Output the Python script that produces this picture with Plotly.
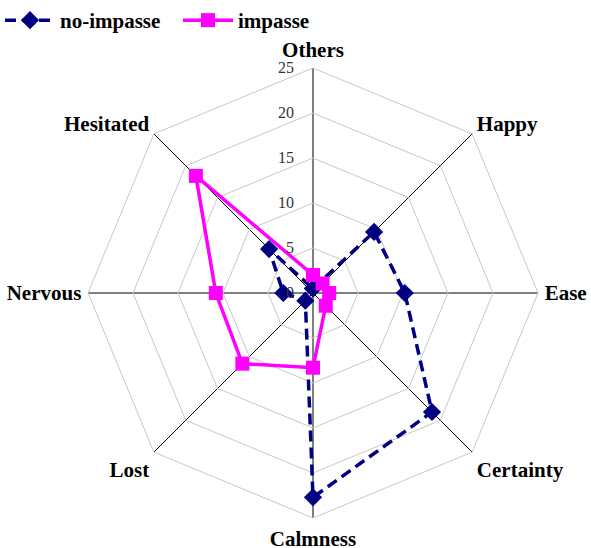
import plotly.graph_objects as go

categories = ["Others", "Happy", "Ease", "Certainty", "Calmness", "Lost", "Nervous", "Hesitated"]
no_impasse = [0.5, 9.6, 10.2, 18.7, 22.7, 1.2, 3.3, 6.9]
impasse = [2.0, 1.5, 1.8, 2.0, 8.3, 11.1, 10.8, 18.4]
radial_ticks = [0, 5, 10, 15, 20, 25]

def closed(v):
    return list(v) + [v[0]]

fig = go.Figure()
fig.add_trace(go.Scatterpolar(
    r=closed(no_impasse), theta=closed(categories), name="no-impasse",
    mode="lines+markers",
    line=dict(color="#000080", width=3.5, dash="11px,6px"),
    marker=dict(symbol="diamond", size=14, color="#000080"),
))
fig.add_trace(go.Scatterpolar(
    r=closed(impasse), theta=closed(categories), name="impasse",
    mode="lines+markers",
    line=dict(color="#FF00FF", width=3.5),
    marker=dict(symbol="square", size=14, color="#FF00FF"),
))

W, H = 591, 548
cx, cy, R = 313, 293, 225
fig.update_layout(
    width=W, height=H,
    margin=dict(l=0, r=0, t=0, b=0, autoexpand=False),
    paper_bgcolor="white",
    plot_bgcolor="white",
    font=dict(family="Liberation Serif", color="black"),
    legend=dict(
        orientation="h", x=0, y=1.0, xanchor="left", yanchor="top",
        font=dict(family="Liberation Serif", size=21, color="black", weight="bold"),
        itemwidth=50, entrywidth=113, entrywidthmode="pixels",
        bgcolor="rgba(0,0,0,0)",
    ),
    polar=dict(
        domain=dict(x=[(cx - R) / W, (cx + R) / W], y=[(H - cy - R) / H, (H - cy + R) / H]),
        gridshape="linear",
        bgcolor="white",
        radialaxis=dict(
            range=[0, 25], tickvals=radial_ticks, ticktext=[str(t) for t in radial_ticks],
            angle=90, tickangle=90, side="counterclockwise",
            showline=False, gridcolor="#c8c8c8", gridwidth=1,
            ticks="outside", ticklen=13, tickcolor="rgba(0,0,0,0)",
            tickfont=dict(family="Liberation Serif", size=16, color="#333333"),
        ),
        angularaxis=dict(
            categoryorder="array", categoryarray=categories,
            rotation=90, direction="clockwise",
            linecolor="#c8c8c8", linewidth=1, showline=True,
            gridcolor="#000000", gridwidth=1,
            ticks="outside", ticklen=2, tickcolor="rgba(0,0,0,0)",
            tickfont=dict(family="Liberation Serif", size=21, color="black", weight="bold"),
        ),
    ),
)

fig.write_html(
    "out.html",
    config={"displayModeBar": False},
    post_script="document.body.style.margin='0';document.body.style.padding='0';",
)
